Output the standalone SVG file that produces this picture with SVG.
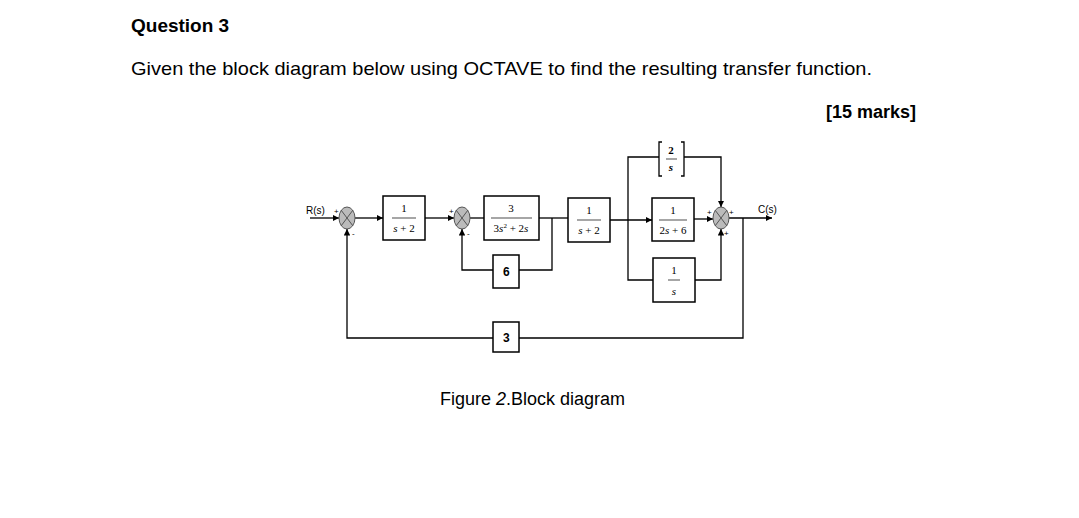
<svg xmlns="http://www.w3.org/2000/svg" width="1079" height="518" viewBox="0 0 1079 518">
<defs>
<marker id="a" viewBox="0 0 6 6" refX="6" refY="3" markerWidth="5" markerHeight="5" orient="auto"><path d="M0,0L6,3L0,6z" fill="#000"/></marker>
<style>
.t{font-family:"Liberation Sans",Arial,sans-serif;fill:#000}
.m{font-family:"Liberation Serif","Times New Roman",serif;font-size:11px;fill:#000;text-anchor:middle}
.b{fill:#fff;stroke:#000;stroke-width:1.5}
.l{fill:none;stroke:#000;stroke-width:1.3}
.s{fill:#bbb;stroke:#555;stroke-width:1}
.sg{font-family:"Liberation Sans",Arial,sans-serif;font-size:8px;fill:#000}
</style>
</defs>
<rect width="1079" height="518" fill="#fff"/>
<text class="t" x="131" y="32" font-size="19" font-weight="bold">Question 3</text>
<text class="t" x="131" y="75" font-size="19" textLength="741" lengthAdjust="spacingAndGlyphs">Given the block diagram below using OCTAVE to find the resulting transfer function.</text>
<text class="t" x="826" y="118" font-size="18" font-weight="bold">[15 marks]</text>
<text class="t" x="440" y="405" font-size="18">Figure <tspan font-style="italic">2</tspan>.Block diagram</text>

<g id="connectors">
<path class="l" d="M310,218H339" marker-end="url(#a)"/>
<path class="l" d="M355,218H383" marker-end="url(#a)"/>
<path class="l" d="M425,218H454" marker-end="url(#a)"/>
<path class="l" d="M470,218H484"/>
<path class="l" d="M539,218H568"/>
<path class="l" d="M552,218V270H519"/>
<path class="l" d="M493,270H462V229" marker-end="url(#a)"/>
<path class="l" d="M610,220H652" marker-end="url(#a)"/>
<path class="l" d="M628,220V157H659"/>
<path class="l" d="M684,157H721V207" marker-end="url(#a)"/>
<path class="l" d="M628,220V280H653"/>
<path class="l" d="M695,280H721V229" marker-end="url(#a)"/>
<path class="l" d="M694,219H713" marker-end="url(#a)"/>
<path class="l" d="M729,218H772" marker-end="url(#a)"/>
<path class="l" d="M743,218V338H519"/>
<path class="l" d="M493,338H347V229" marker-end="url(#a)"/>
</g>

<g id="sum1"><ellipse class="s" cx="347" cy="218" rx="8" ry="11"/><path d="M341,210L353,226M353,210L341,226" stroke="#555"/><text class="sg" x="334" y="214">+</text><text class="sg" x="352" y="236">-</text></g>
<g id="sum2"><ellipse class="s" cx="462" cy="218" rx="8" ry="11"/><path d="M456,210L468,226M468,210L456,226" stroke="#555"/><text class="sg" x="449" y="214">+</text><text class="sg" x="467" y="236">-</text></g>
<g id="sum3"><ellipse class="s" cx="721" cy="218" rx="8" ry="11"/><path d="M715,210L727,226M727,210L715,226" stroke="#555"/><text class="sg" x="707" y="215">+</text><text class="sg" x="729" y="215">+</text><text class="sg" x="724" y="236">+</text></g>

<g id="g1"><rect class="b" x="383" y="196" width="42" height="44"/><text class="m" x="404" y="212">1</text><path d="M392,218H416" stroke="#000" stroke-width=".7"/><text class="m" x="404" y="232" font-style="italic">s<tspan font-style="normal"> + 2</tspan></text></g>
<g id="g2"><rect class="b" x="484" y="196" width="55" height="44"/><text class="m" x="511" y="212">3</text><path d="M491,218H532" stroke="#000" stroke-width=".7"/><text class="m" x="511" y="232">3<tspan font-style="italic">s</tspan><tspan font-size="7" dy="-4">2</tspan><tspan dy="4"> + 2</tspan><tspan font-style="italic">s</tspan></text></g>
<g id="g3"><rect class="b" x="568" y="198" width="42" height="44"/><text class="m" x="589" y="214">1</text><path d="M577,220H601" stroke="#000" stroke-width=".7"/><text class="m" x="589" y="234" font-style="italic">s<tspan font-style="normal"> + 2</tspan></text></g>
<g id="h6"><rect class="b" x="493" y="255" width="26" height="33"/><text class="t" x="503" y="276" font-size="12" font-weight="bold">6</text></g>
<g id="h3"><rect class="b" x="493" y="322" width="26" height="30"/><text class="t" x="503" y="342" font-size="12" font-weight="bold">3</text></g>
<g id="g2s"><path class="l" d="M662,142H659V176H662M681,142H684V176H681"/><text class="m" x="671" y="154" font-weight="bold">2</text><path d="M666,159H677" stroke="#000" stroke-width=".7"/><text class="m" x="671" y="171" font-weight="bold" font-style="italic">s</text></g>
<g id="g4"><rect class="b" x="652" y="198" width="42" height="43"/><text class="m" x="673" y="214">1</text><path d="M659,220H687" stroke="#000" stroke-width=".7"/><text class="m" x="673" y="234">2<tspan font-style="italic">s</tspan> + 6</text></g>
<g id="g5"><rect class="b" x="653" y="258" width="42" height="44"/><text class="m" x="674" y="274">1</text><path d="M668,280H680" stroke="#000" stroke-width=".7"/><text class="m" x="674" y="295" font-style="italic">s</text></g>
<text class="t" x="306" y="214" font-size="10">R(s)</text>
<text class="t" x="758" y="213" font-size="10">C(s)</text>
</svg>
